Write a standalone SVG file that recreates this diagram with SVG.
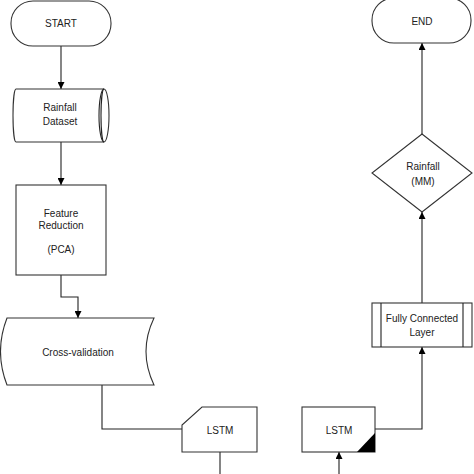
<svg xmlns="http://www.w3.org/2000/svg" width="474" height="474" viewBox="0 0 474 474">
<defs>
<marker id="arr" viewBox="0 0 10 10" refX="10" refY="5" markerWidth="7" markerHeight="7" markerUnits="userSpaceOnUse" orient="auto">
<path d="M0,0 L10,5 L0,10 Z" fill="#000"/>
</marker>
<style>
.s{fill:#fff;stroke:#333;stroke-width:1.1}
.c{fill:none;stroke:#222;stroke-width:1.1}
.t{font-family:"Liberation Sans",Arial,sans-serif;font-size:10px;fill:#222;text-anchor:middle}
</style>
</defs>
<rect width="474" height="474" fill="#fff"/>
<g id="connectors">
<path class="c" d="M61,46 V89" marker-end="url(#arr)"/>
<path class="c" d="M61,142 V185" marker-end="url(#arr)"/>
<path class="c" d="M61,275 V297 H78 V318" marker-end="url(#arr)"/>
<path class="c" d="M102,385 V429 H183"/>
<path class="c" d="M220,452 V480 H339 V452" marker-end="url(#arr)"/>
<path class="c" d="M375,429 H422 V347" marker-end="url(#arr)"/>
<path class="c" d="M422,303 V212" marker-end="url(#arr)"/>
<path class="c" d="M422,134 V43" marker-end="url(#arr)"/>
</g>
<g id="start">
<rect class="s" x="11" y="1" width="100" height="45" rx="22" ry="22"/>
<text class="t" x="61" y="27">START</text>
</g>
<g id="dataset">
<path class="s" d="M16,89 H104 A5,26.5 0 0 1 104,142 H16 A3,26.5 0 0 1 16,89 Z"/>
<path class="c" d="M104,89 A5,26.5 0 0 0 104,142"/>
<path class="c" d="M104,89 A3,26.5 0 0 0 101,115.5 A3,26.5 0 0 0 104,142" stroke-width="0.8"/>
<text class="t" x="60" y="111">Rainfall</text>
<text class="t" x="60" y="125">Dataset</text>
</g>
<g id="feature">
<rect class="s" x="16" y="185" width="90" height="90"/>
<text class="t" x="61" y="217">Feature</text>
<text class="t" x="61" y="229">Reduction</text>
<text class="t" x="61" y="253">(PCA)</text>
</g>
<g id="crossval">
<path class="s" d="M7,318 H154 Q138,351.5 154,385 H7 Q-6,351.5 7,318 Z"/>
<text class="t" x="78" y="356">Cross-validation</text>
</g>
<g id="lstm1">
<path class="s" d="M202,407 H257 V452 H182 V425 Z"/>
<text class="t" x="220" y="434">LSTM</text>
</g>
<g id="lstm2">
<rect class="s" x="302" y="407" width="73" height="45"/>
<path d="M357,452 L375,452 L375,433 Z" fill="#000"/>
<text class="t" x="339" y="434">LSTM</text>
</g>
<g id="fcl">
<rect class="s" x="372" y="303" width="100" height="44"/>
<path class="c" d="M381,303 V347 M463,303 V347"/>
<text class="t" x="422" y="322">Fully Connected</text>
<text class="t" x="422" y="336">Layer</text>
</g>
<g id="rainfall">
<path class="s" d="M422,134 L472,173 L422,212 L372,173 Z"/>
<text class="t" x="423" y="170">Rainfall</text>
<text class="t" x="423" y="185">(MM)</text>
</g>
<g id="end">
<rect class="s" x="372" y="-2" width="99" height="45" rx="22" ry="22"/>
<text class="t" x="422" y="25">END</text>
</g>
</svg>
